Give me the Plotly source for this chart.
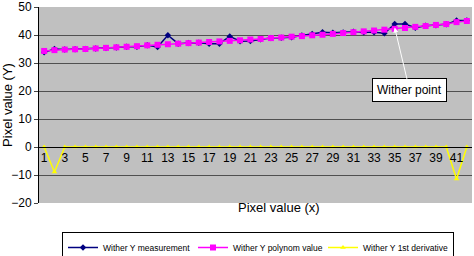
import plotly.graph_objects as go

x_pixels = list(range(1, 43))
measurement = [33.8, 35.0, 34.8, 34.9, 35.0, 35.2, 35.4, 35.5, 35.8, 35.8,
               36.3, 35.7, 39.9, 36.9, 37.1, 37.2, 36.9, 36.9, 39.5, 37.8,
               37.9, 38.5, 38.9, 39.0, 39.2, 39.8, 40.4, 41.0, 40.8, 40.9,
               41.2, 41.0, 41.0, 40.6, 43.9, 43.9, 42.6, 43.3, 43.5, 43.8,
               45.2, 45.2]
polynom = [34.3, 34.6, 34.8, 34.9, 35.0, 35.2, 35.4, 35.6, 35.8, 36.0,
           36.3, 36.5, 36.7, 36.9, 37.1, 37.3, 37.5, 37.7, 37.9, 38.1,
           38.4, 38.6, 38.9, 39.1, 39.4, 39.6, 39.9, 40.1, 40.4, 40.7,
           41.0, 41.3, 41.6, 41.9, 42.2, 42.5, 42.9, 43.2, 43.6, 43.9,
           44.6, 45.0]
derivative = [0, -8.9] + [0] * 38 + [-11.4, 0]
x_tick_vals = list(range(1, 42, 2))
y_ticks = [-20, -10, 0, 10, 20, 30, 40, 50]

font = "Liberation Sans, Arial, sans-serif"
L, R, T, B = 39, 2, 7, 53
PW, PH = 474 - L - R, 256 - T - B

fig = go.Figure()
fig.add_trace(go.Scatter(x=x_pixels, y=measurement, mode="lines+markers",
                         name="Wither Y measurement",
                         line=dict(color="#000080", width=1.5),
                         marker=dict(symbol="diamond", size=5, color="#000080")))
fig.add_trace(go.Scatter(x=x_pixels, y=polynom, mode="lines+markers",
                         name="Wither Y polynom value",
                         line=dict(color="#FF00FF", width=1.5),
                         marker=dict(symbol="square", size=6, color="#FF00FF")))
fig.add_trace(go.Scatter(x=x_pixels, y=derivative, mode="lines+markers",
                         name="Wither Y 1st derivative",
                         line=dict(color="#FFFF00", width=1.5),
                         marker=dict(symbol="triangle-up", size=5, color="#FFFF00")))

fig.add_annotation(x=35, y=42.7, text="Wither point", showarrow=True,
                   arrowhead=2, arrowsize=1, arrowwidth=1, arrowcolor="white",
                   ax=15, ay=63, bgcolor="white", bordercolor="black",
                   borderwidth=1, borderpad=4,
                   font=dict(family=font, size=12, color="black"))
fig.add_annotation(x=(279 - L) / PW, y=(T + PH - 217) / PH, xref="paper", yref="paper",
                   text="Pixel value (x)", showarrow=False,
                   font=dict(family=font, size=13, color="black"))

fig.update_layout(
    width=474, height=256,
    margin=dict(l=L, r=R, t=T, b=B, autoexpand=False),
    paper_bgcolor="white", plot_bgcolor="#C0C0C0",
    font=dict(family=font, size=12, color="black"),
    showlegend=True,
    legend=dict(orientation="h", x=(62 - L) / PW, xanchor="left",
                y=(T + PH - 232) / PH, yanchor="top",
                bordercolor="black", borderwidth=1, bgcolor="white",
                font=dict(family=font, size=8.5), itemwidth=30,
                entrywidth=85, entrywidthmode="pixels",
                tracegroupgap=0),
    xaxis=dict(range=[0.5, 42.5], tickmode="array", tickvals=x_tick_vals,
               showgrid=False, zeroline=False, showline=True, linecolor="black",
               linewidth=1, anchor="free", position=20 / 70,
               ticks="", tickfont=dict(size=12)),
    yaxis=dict(range=[-20, 50], tickvals=y_ticks, showgrid=True,
               gridcolor="#505050", gridwidth=1, zeroline=False,
               showline=True, linecolor="black", ticks="outside", ticklen=4,
               title=dict(text="Pixel value (Y)", font=dict(size=13), standoff=6),
               tickfont=dict(size=12)),
)
fig.write_html("out.html")
